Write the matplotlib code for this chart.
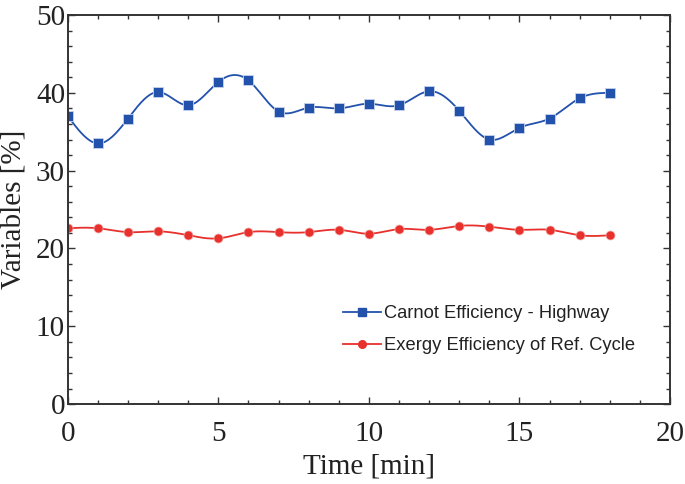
import numpy as np
import matplotlib
matplotlib.use("Agg")
import matplotlib.pyplot as plt
from matplotlib.ticker import MultipleLocator

time_min = [0, 1, 2, 3, 4, 5, 6, 7, 8, 9, 10, 11, 12, 13, 14, 15, 16, 17, 18]
carnot_highway = [37.0, 33.5, 36.7, 40.1, 38.4, 41.4, 41.6, 37.6, 38.1, 38.0,
                  38.6, 38.4, 40.2, 37.7, 34.0, 35.5, 36.7, 39.3, 40.0]
exergy_ref = [22.6, 22.6, 22.1, 22.2, 21.7, 21.3, 22.1, 22.1, 22.1, 22.4,
              21.9, 22.5, 22.4, 22.9, 22.8, 22.4, 22.4, 21.7, 21.7]
label_carnot = "Carnot Efficiency - Highway"
label_exergy = "Exergy Efficiency of Ref. Cycle"


def natural_spline(x, y, n=600):
    x = np.asarray(x, float)
    y = np.asarray(y, float)
    k = len(x)
    h = np.diff(x)
    A = np.zeros((k, k))
    b = np.zeros(k)
    A[0, 0] = 1
    A[-1, -1] = 1
    for i in range(1, k - 1):
        A[i, i - 1] = h[i - 1]
        A[i, i] = 2 * (h[i - 1] + h[i])
        A[i, i + 1] = h[i]
        b[i] = 6 * ((y[i + 1] - y[i]) / h[i] - (y[i] - y[i - 1]) / h[i - 1])
    M = np.linalg.solve(A, b)
    xs = np.linspace(x[0], x[-1], n)
    idx = np.clip(np.searchsorted(x, xs) - 1, 0, k - 2)
    x0, x1 = x[idx], x[idx + 1]
    hh = x1 - x0
    a = (x1 - xs) / hh
    bb = (xs - x0) / hh
    ys = (a * y[idx] + bb * y[idx + 1]
          + ((a ** 3 - a) * M[idx] + (bb ** 3 - bb) * M[idx + 1]) * hh ** 2 / 6)
    return xs, ys


blue = "#2352ac"
red = "#e8302c"

fig = plt.figure(figsize=(6.85, 4.84), dpi=100)
ax = fig.add_axes([0.099, 0.165, 0.879, 0.804])

xs, ys = natural_spline(time_min, carnot_highway)
ax.plot(xs, ys, color=blue, lw=1.3)
ax.plot(time_min, carnot_highway, ls="none", marker="s", ms=6.5, color=blue,
        mec="#c8d4ee", mew=0.6)
xs2, ys2 = natural_spline(time_min, exergy_ref)
ax.plot(xs2, ys2, color=red, lw=1.3)
ax.plot(time_min, exergy_ref, ls="none", marker="o", ms=6.5, color=red,
        mec="#f5b0b0", mew=0.5)

# legend proxies
ax.plot([], [], color=blue, lw=1.3, marker="s", ms=5.5, label=label_carnot)
ax.plot([], [], color=red, lw=1.3, marker="o", ms=5.5, label=label_exergy)
h, l = ax.get_legend_handles_labels()
leg = ax.legend(h[-2:], l[-2:], loc="upper left", bbox_to_anchor=(0.5007, 0.370),
                bbox_transform=fig.transFigure, borderpad=0, borderaxespad=0,
                frameon=False, handlelength=2.1, handletextpad=0.15,
                labelspacing=0.82, prop={"family": "Liberation Sans", "size": 13.2})
for t in leg.get_texts():
    t.set_color("#222222")

ax.set_xlim(0, 20)
ax.set_ylim(0, 50)
ax.xaxis.set_major_locator(MultipleLocator(5))
ax.xaxis.set_minor_locator(MultipleLocator(1))
ax.yaxis.set_major_locator(MultipleLocator(10))
ax.yaxis.set_minor_locator(MultipleLocator(2))
ax.tick_params(which="both", direction="in", top=True, right=True, width=1.0,
               colors="#333333")
ax.tick_params(which="major", length=5, labelsize=21)
ax.tick_params(axis="x", which="major", pad=12)
ax.tick_params(axis="y", which="major", pad=2)
ax.tick_params(which="minor", length=3)
for lab in ax.get_xticklabels() + ax.get_yticklabels():
    lab.set_family("Liberation Serif")
    lab.set_color("#222222")
for s in ax.spines.values():
    s.set_linewidth(1.4)
    s.set_color("#333333")

ax.set_xlabel("Time [min]", family="Liberation Serif", size=21, color="#222222",
              labelpad=5)
ax.set_ylabel("Variables [%]", family="Liberation Serif", size=21, color="#222222",
              labelpad=7)

fig.savefig("out.png", dpi=100)
